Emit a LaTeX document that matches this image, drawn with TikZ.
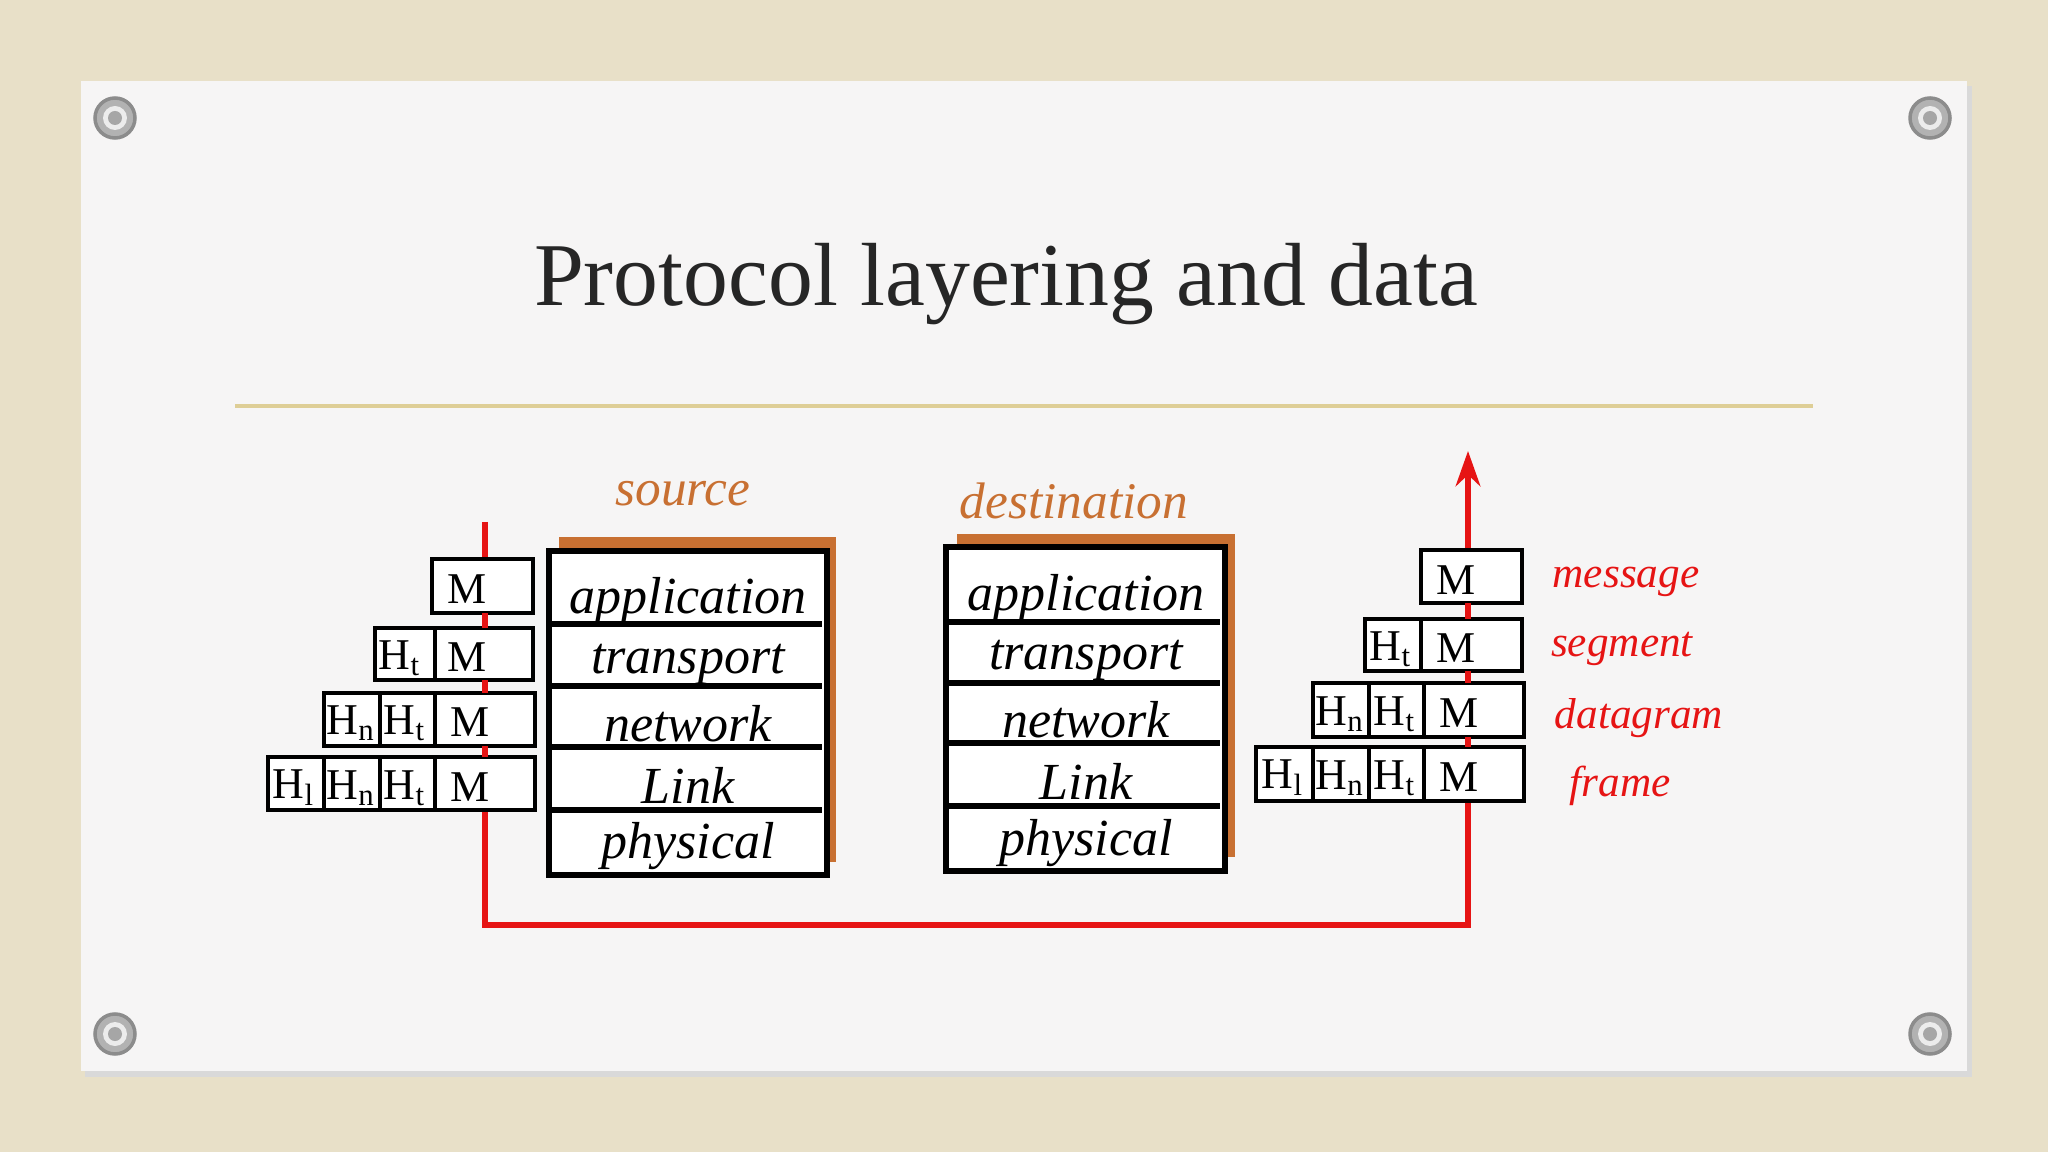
\documentclass[tikz,border=0pt]{standalone}
\usepackage{fontspec}
\usetikzlibrary{arrows.meta}
\setmainfont{Liberation Serif}
\definecolor{bg}{RGB}{232,224,200}
\definecolor{card}{RGB}{246,245,245}
\definecolor{gold}{RGB}{222,206,150}
\definecolor{org}{RGB}{200,112,50}
\definecolor{rd}{RGB}{230,20,20}
\begin{document}
\begin{tikzpicture}[x=0.01cm,y=-0.01cm,
  lay/.style={font=\fontsize{14.8}{16}\selectfont\itshape,anchor=center},
  pk/.style={draw,line width=1.1pt,fill=white},
  pt/.style={font=\fontsize{12.5}{14}\selectfont,anchor=center},
  lbl/.style={text=rd,font=\fontsize{12.3}{14}\selectfont\itshape,anchor=center},
  sep/.style={line width=1.5pt},
  screw/.style={fill=gray!60,draw=gray!90,line width=1pt}]
\useasboundingbox (0,0) rectangle (2048,1152);
\fill[bg] (0,0) rectangle (2048,1152);
\fill[black!15] (85,86) rectangle (1972,1077);
\fill[card] (81,81) rectangle (1967,1071);
\foreach \p/\q in {115/118,1930/118,115/1034,1930/1034}{
  \fill[screw] (\p,\q) circle (20);
  \fill[white!85!gray] (\p,\q) circle (12);
  \fill[gray!70] (\p,\q) circle (7);}
\node[font=\fontsize{25.5}{28}\selectfont,text=black!85] (title) at (1006,284) {Protocol layering and data};
\draw[gold,line width=1pt] (235,406) -- (1813,406);
\node[text=org,font=\fontsize{14.6}{16}\selectfont\itshape] (src) at (683,494) {source};
\node[text=org,font=\fontsize{14.6}{16}\selectfont\itshape] (dst) at (1074,501) {destination};
% red path
\coordinate (r0) at (485,522);
\coordinate (r1) at (485,925);
\coordinate (r2) at (1468,925);
\coordinate (r3) at (1468,451);
\draw[rd,line width=1.8pt,-{Stealth[length=10pt,width=7pt]}] (r0) -- (r1) -- (r2) -- (r3);
% source stack
\fill[org] (559,537) rectangle (836,862);
\draw[line width=1.6pt,fill=white] (549,551) rectangle (827,875);
\foreach \y in {624,686,747,810}{\draw[sep] (549,\y) -- (822,\y);}
\node[lay] (sa) at (688,601) {application};
\node[lay] (st) at (688,664) {transport};
\node[lay] (sn) at (688,724) {network};
\node[lay] (sl) at (688,785) {Link};
\node[lay] (sp) at (688,846) {physical};
% dest stack
\fill[org] (957,534) rectangle (1235,857);
\draw[line width=1.6pt,fill=white] (946,547) rectangle (1225,871);
\foreach \y in {622,683,743,806}{\draw[sep] (946,\y) -- (1220,\y);}
\node[lay] (da) at (1086,598) {application};
\node[lay] (dt) at (1086,660) {transport};
\node[lay] (dn) at (1086,720) {network};
\node[lay] (dl) at (1086,781) {Link};
\node[lay] (dp) at (1086,843) {physical};
% left packets
\draw[pk] (432,559) rectangle (533,613); \node[pt] (lm1) at (467,589) {M};
\draw[pk] (375,628) rectangle (435,680); \draw[pk] (435,628) rectangle (533,680);
\node[pt] (lh2) at (400,658) {H\textsubscript{t}}; \node[pt] (lm2) at (467,657) {M};
\draw[pk] (324,693) rectangle (380,746); \draw[pk] (380,693) rectangle (435,746); \draw[pk] (435,693) rectangle (535,746);
\node[pt] (ln3) at (351,723) {H\textsubscript{n}}; \node[pt] (lt3) at (405,723) {H\textsubscript{t}}; \node[pt] (lm3) at (470,722) {M};
\draw[pk] (268,757) rectangle (324,810); \draw[pk] (324,757) rectangle (380,810); \draw[pk] (380,757) rectangle (435,810); \draw[pk] (435,757) rectangle (535,810);
\node[pt] (ll4) at (294,788) {H\textsubscript{l}}; \node[pt] (ln4) at (351,788) {H\textsubscript{n}}; \node[pt] (lt4) at (405,788) {H\textsubscript{t}}; \node[pt] (lm4) at (470,787) {M};
% right packets
\draw[pk] (1421,550) rectangle (1522,603); \node[pt] (rm1) at (1456,580) {M};
\draw[pk] (1365,619) rectangle (1421,671); \draw[pk] (1421,619) rectangle (1522,671);
\node[pt] (rh2) at (1391,649) {H\textsubscript{t}}; \node[pt] (rm2) at (1456,648) {M};
\draw[pk] (1313,683) rectangle (1369,737); \draw[pk] (1369,683) rectangle (1424,737); \draw[pk] (1424,683) rectangle (1524,737);
\node[pt] (rn3) at (1340,714) {H\textsubscript{n}}; \node[pt] (rt3) at (1395,714) {H\textsubscript{t}}; \node[pt] (rm3) at (1459,713) {M};
\draw[pk] (1256,747) rectangle (1313,801); \draw[pk] (1313,747) rectangle (1369,801); \draw[pk] (1369,747) rectangle (1424,801); \draw[pk] (1424,747) rectangle (1524,801);
\node[pt] (rl4) at (1283,778) {H\textsubscript{l}}; \node[pt] (rn4) at (1340,778) {H\textsubscript{n}}; \node[pt] (rt4) at (1395,778) {H\textsubscript{t}}; \node[pt] (rm4) at (1459,777) {M};
% red line visible between packets
\foreach \a/\b in {613/628,680/693,746/757}{\draw[rd,line width=1.8pt] (485,\a) -- (485,\b);}
\foreach \a/\b in {603/619,671/683,737/747}{\draw[rd,line width=1.8pt] (1468,\a) -- (1468,\b);}
\node[lbl] (msg) at (1626,582) {message};
\node[lbl] (seg) at (1622,649) {segment};
\node[lbl] (dgm) at (1639,718) {datagram};
\node[lbl] (frm) at (1620,786) {frame};
\end{tikzpicture}
\end{document}
